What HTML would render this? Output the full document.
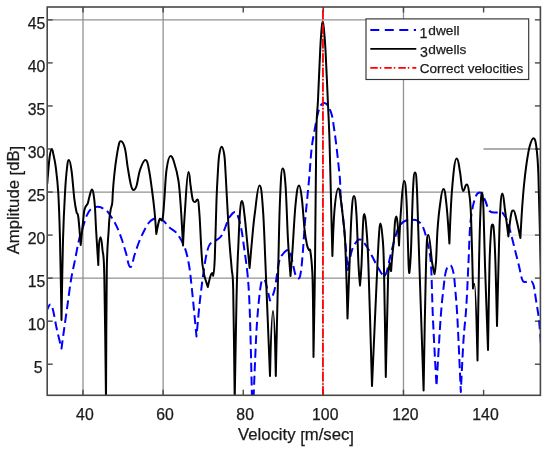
<!DOCTYPE html>
<html><head><meta charset="utf-8"><style>
html,body{margin:0;padding:0;background:#fff;}
svg{display:block;}
text{font-family:"Liberation Sans",Arial,sans-serif;fill:#1a1a1a;stroke:#1a1a1a;stroke-width:0.25px;}
.tl text{font-size:15.8px;}
.al{font-size:16.7px;}
.lg{font-size:13.7px;}
</style></head><body>
<svg width="550" height="450" viewBox="0 0 550 450">
<defs><clipPath id="clip"><rect x="47.2" y="7.0" width="493.20" height="388.30"/></clipPath></defs>
<rect width="550" height="450" fill="#fff"/>
<g stroke="#929292" stroke-width="1.3" fill="none"><line x1="83.00" y1="7.0" x2="83.00" y2="395.3"/><line x1="163.12" y1="7.0" x2="163.12" y2="395.3"/><line x1="403.48" y1="7.0" x2="403.48" y2="395.3"/><line x1="47.2" y1="19.85" x2="366" y2="19.85"/><line x1="47.2" y1="192.03" x2="483.5" y2="192.03"/><line x1="47.2" y1="278.12" x2="483.5" y2="278.12"/><line x1="483.5" y1="148.98" x2="540.4" y2="148.98"/></g>
<line x1="322.95" y1="7" x2="322.95" y2="395.3" stroke="#c4cccc" stroke-width="1.3"/>
<line x1="505" y1="235.07" x2="540.4" y2="235.07" stroke="#dcdcdc" stroke-width="1"/>
<g stroke="#484848" stroke-width="1.4"><line x1="83.00" y1="395.3" x2="83.00" y2="389.8"/><line x1="83.00" y1="7.0" x2="83.00" y2="12.5"/><line x1="163.12" y1="395.3" x2="163.12" y2="389.8"/><line x1="163.12" y1="7.0" x2="163.12" y2="12.5"/><line x1="243.24" y1="395.3" x2="243.24" y2="389.8"/><line x1="243.24" y1="7.0" x2="243.24" y2="12.5"/><line x1="323.36" y1="395.3" x2="323.36" y2="389.8"/><line x1="323.36" y1="7.0" x2="323.36" y2="12.5"/><line x1="403.48" y1="395.3" x2="403.48" y2="389.8"/><line x1="403.48" y1="7.0" x2="403.48" y2="12.5"/><line x1="483.60" y1="395.3" x2="483.60" y2="389.8"/><line x1="483.60" y1="7.0" x2="483.60" y2="12.5"/><line x1="47.2" y1="364.21" x2="52.7" y2="364.21"/><line x1="540.4" y1="364.21" x2="534.9" y2="364.21"/><line x1="47.2" y1="321.17" x2="52.7" y2="321.17"/><line x1="540.4" y1="321.17" x2="534.9" y2="321.17"/><line x1="47.2" y1="278.12" x2="52.7" y2="278.12"/><line x1="540.4" y1="278.12" x2="534.9" y2="278.12"/><line x1="47.2" y1="235.07" x2="52.7" y2="235.07"/><line x1="540.4" y1="235.07" x2="534.9" y2="235.07"/><line x1="47.2" y1="192.03" x2="52.7" y2="192.03"/><line x1="540.4" y1="192.03" x2="534.9" y2="192.03"/><line x1="47.2" y1="148.98" x2="52.7" y2="148.98"/><line x1="540.4" y1="148.98" x2="534.9" y2="148.98"/><line x1="47.2" y1="105.94" x2="52.7" y2="105.94"/><line x1="540.4" y1="105.94" x2="534.9" y2="105.94"/><line x1="47.2" y1="62.90" x2="52.7" y2="62.90"/><line x1="540.4" y1="62.90" x2="534.9" y2="62.90"/><line x1="47.2" y1="19.85" x2="52.7" y2="19.85"/><line x1="540.4" y1="19.85" x2="534.9" y2="19.85"/></g>
<g clip-path="url(#clip)" fill="none" stroke-linejoin="round">
<path d="M46.00,312.00 C46.20,311.58 46.47,310.77 47.20,309.50 C47.93,308.23 48.95,304.40 50.40,304.40 C51.85,304.40 51.90,305.73 53.00,310.00 C54.10,314.27 55.58,323.58 57.00,330.00 C58.42,336.42 61.50,348.50 61.50,348.50 C61.50,348.50 63.00,337.25 64.00,330.00 C65.00,322.75 66.33,313.33 67.50,305.00 C68.67,296.67 69.75,287.50 71.00,280.00 C72.25,272.50 73.67,266.67 75.00,260.00 C76.33,253.33 77.70,245.37 79.00,240.00 C80.30,234.63 81.52,231.87 82.80,227.80 C84.08,223.73 85.33,218.73 86.70,215.60 C88.07,212.47 89.15,210.48 91.00,209.00 C92.85,207.52 95.05,206.70 97.80,206.70 C100.55,206.70 100.52,207.35 102.00,208.00 C103.48,208.65 104.82,208.60 106.70,210.60 C108.58,212.60 111.45,216.95 113.30,220.00 C115.15,223.05 116.35,225.57 117.80,228.90 C119.25,232.23 120.63,235.98 122.00,240.00 C123.37,244.02 124.60,248.50 126.00,253.00 C127.40,257.50 128.28,267.00 130.40,267.00 C132.53,267.00 133.07,259.17 134.50,255.00 C135.93,250.83 137.42,246.00 139.00,242.00 C140.58,238.00 142.33,234.25 144.00,231.00 C145.67,227.75 147.42,224.50 149.00,222.50 C150.58,220.50 152.17,219.67 153.50,219.00 C154.83,218.33 154.62,218.50 157.00,218.50 C159.38,218.50 160.92,219.00 163.00,220.50 C165.08,222.00 167.17,225.33 169.50,227.50 C171.83,229.67 174.50,230.25 177.00,233.50 C179.50,236.75 182.50,241.75 184.50,247.00 C186.50,252.25 187.75,257.83 189.00,265.00 C190.25,272.17 190.75,278.08 192.00,290.00 C193.25,301.92 196.50,336.50 196.50,336.50 C196.50,336.50 198.75,311.25 200.00,300.00 C201.25,288.75 202.83,277.00 204.00,269.00 C205.17,261.00 206.00,256.17 207.00,252.00 C208.00,247.83 208.50,245.93 210.00,244.00 C211.50,242.07 214.00,241.90 216.00,240.40 C218.00,238.90 220.00,238.40 222.00,235.00 C224.00,231.60 226.67,223.08 228.00,220.00 C229.33,216.92 228.83,217.83 230.00,216.50 C231.17,215.17 232.88,212.00 235.00,212.00 C237.12,212.00 237.42,215.00 238.50,218.00 C239.58,221.00 240.58,225.17 241.50,230.00 C242.42,234.83 242.93,239.00 244.00,247.00 C245.07,255.00 246.90,266.17 247.90,278.00 C248.90,289.83 249.32,297.67 250.00,318.00 C250.68,338.33 252.00,400.00 252.00,400.00 C252.00,400.00 253.50,400.00 253.50,400.00 C253.50,400.00 255.25,355.00 256.00,340.00 C256.75,325.00 257.17,319.33 258.00,310.00 C258.83,300.67 260.00,289.08 261.00,284.00 C262.00,278.92 262.50,279.50 264.00,279.50 C265.50,279.50 266.00,284.50 267.00,288.00 C268.00,291.50 270.00,300.50 270.00,300.50 C270.00,300.50 273.00,296.42 274.50,290.00 C276.00,283.58 277.58,268.00 279.00,262.00 C280.42,256.00 281.50,256.00 283.00,254.00 C284.50,252.00 286.25,250.00 288.00,250.00 C289.75,250.00 289.25,250.00 290.00,252.00 C290.75,254.00 291.58,258.17 292.50,262.00 C293.42,265.83 294.50,272.25 295.50,275.00 C296.50,277.75 297.12,278.50 298.50,278.50 C299.88,278.50 300.25,275.75 301.00,271.00 C301.75,266.25 302.33,258.17 303.00,250.00 C303.67,241.83 304.00,233.67 305.00,222.00 C306.00,210.33 307.88,192.33 309.00,180.00 C310.12,167.67 310.70,156.67 311.70,148.00 C312.70,139.33 313.95,133.83 315.00,128.00 C316.05,122.17 317.00,116.83 318.00,113.00 C319.00,109.17 319.92,106.67 321.00,105.00 C322.08,103.33 322.75,103.00 324.50,103.00 C326.25,103.00 326.80,104.10 328.00,106.00 C329.20,107.90 330.70,110.73 331.70,114.40 C332.70,118.07 333.27,123.18 334.00,128.00 C334.73,132.82 335.35,137.13 336.10,143.30 C336.85,149.47 337.85,158.88 338.50,165.00 C339.15,171.12 339.65,175.00 340.00,180.00 C340.35,185.00 340.30,190.55 340.60,195.00 C340.90,199.45 341.32,202.20 341.80,206.70 C342.28,211.20 342.97,216.67 343.50,222.00 C344.03,227.33 344.28,230.70 345.00,238.70 C345.72,246.70 347.80,270.00 347.80,270.00 C347.80,270.00 350.47,254.83 352.00,250.00 C353.53,245.17 355.67,242.75 357.00,241.00 C358.33,239.25 357.75,239.50 360.00,239.50 C362.25,239.50 364.00,242.75 366.00,245.50 C368.00,248.25 370.25,252.75 372.00,256.00 C373.75,259.25 375.17,262.50 376.50,265.00 C377.83,267.50 378.77,269.00 380.00,271.00 C381.23,273.00 383.90,277.00 383.90,277.00 C383.90,277.00 385.85,274.50 386.70,272.00 C387.55,269.50 388.27,265.17 389.00,262.00 C389.73,258.83 390.20,256.67 391.10,253.00 C392.00,249.33 393.33,243.83 394.40,240.00 C395.47,236.17 396.40,232.67 397.50,230.00 C398.60,227.33 399.58,225.58 401.00,224.00 C402.42,222.42 404.33,221.17 406.00,220.50 C407.67,219.83 408.25,220.00 411.00,220.00 C413.75,220.00 415.00,219.33 417.00,220.50 C419.00,221.67 421.17,222.92 423.00,227.00 C424.83,231.08 426.67,238.67 428.00,245.00 C429.33,251.33 430.17,252.50 431.00,265.00 C431.83,277.50 432.08,299.83 433.00,320.00 C433.92,340.17 436.50,386.00 436.50,386.00 C436.50,386.00 439.37,336.00 440.50,320.00 C441.63,304.00 442.38,298.17 443.30,290.00 C444.22,281.83 444.88,275.12 446.00,271.00 C447.12,266.88 448.12,265.30 450.00,265.30 C451.88,265.30 452.62,268.88 453.50,273.00 C454.38,277.12 454.63,282.17 455.30,290.00 C455.97,297.83 456.58,303.00 457.50,320.00 C458.42,337.00 460.80,392.00 460.80,392.00 C460.80,392.00 462.58,354.22 463.50,340.00 C464.42,325.78 465.47,319.70 466.30,306.70 C467.13,293.70 467.80,276.12 468.50,262.00 C469.20,247.88 469.45,232.50 470.50,222.00 C471.55,211.50 473.22,203.92 474.80,199.00 C476.38,194.08 477.45,192.50 480.00,192.50 C482.55,192.50 483.42,196.92 485.00,200.00 C486.58,203.08 487.50,208.92 489.50,211.00 C491.50,213.08 494.12,212.50 497.00,212.50 C499.88,212.50 499.25,212.00 501.00,212.00 C502.75,212.00 503.00,213.67 504.00,215.00 C505.00,216.33 505.83,216.83 507.00,220.00 C508.17,223.17 509.67,229.00 511.00,234.00 C512.33,239.00 513.67,244.67 515.00,250.00 C516.33,255.33 517.83,261.17 519.00,266.00 C520.17,270.83 521.00,276.33 522.00,279.00 C523.00,281.67 523.00,282.00 525.00,282.00 C527.00,282.00 527.88,281.00 530.00,281.00 C532.12,281.00 532.50,281.83 533.50,285.00 C534.50,288.17 535.08,294.17 536.00,300.00 C536.92,305.83 538.17,312.50 539.00,320.00 C539.83,327.50 540.67,340.83 541.00,345.00" stroke="#0000ff" stroke-width="2" stroke-dasharray="9 4.5"/>
<path d="M47.20,184.00 C47.58,179.67 48.75,163.78 49.50,158.00 C50.25,152.22 50.70,149.30 51.70,149.30 C52.70,149.30 52.83,152.10 53.50,155.00 C54.17,157.90 54.90,160.32 55.70,166.70 C56.50,173.08 57.58,181.08 58.30,193.30 C59.02,205.52 59.47,218.88 60.00,240.00 C60.53,261.12 61.50,320.00 61.50,320.00 C61.50,320.00 62.42,261.17 63.00,240.00 C63.58,218.83 64.33,205.00 65.00,193.00 C65.67,181.00 66.33,173.50 67.00,168.00 C67.67,162.50 67.83,160.00 69.00,160.00 C70.17,160.00 70.82,165.55 71.70,172.00 C72.58,178.45 73.50,192.03 74.30,198.70 C75.10,205.37 75.83,208.95 76.50,212.00 C77.17,215.05 77.60,211.50 78.30,217.00 C79.00,222.50 80.70,245.00 80.70,245.00 C80.70,245.00 81.77,234.33 82.20,230.00 C82.63,225.67 82.97,222.17 83.30,219.00 C83.63,215.83 83.82,213.05 84.20,211.00 C84.58,208.95 85.00,207.98 85.60,206.70 C86.20,205.42 87.17,204.97 87.80,203.30 C88.43,201.63 88.70,199.02 89.40,196.70 C90.10,194.38 90.88,189.40 92.00,189.40 C93.12,189.40 93.40,193.63 93.90,196.70 C94.40,199.77 94.63,202.25 95.00,207.80 C95.37,213.35 95.55,220.47 96.10,230.00 C96.65,239.53 98.30,265.00 98.30,265.00 C98.30,265.00 98.62,249.62 99.00,245.00 C99.38,240.38 99.72,237.30 100.60,237.30 C101.47,237.30 101.88,243.72 102.50,250.00 C103.12,256.28 103.72,250.00 104.30,275.00 C104.88,300.00 106.00,400.00 106.00,400.00 C106.00,400.00 106.35,298.33 106.80,270.00 C107.25,241.67 108.27,238.50 108.70,230.00 C109.13,221.50 109.08,222.33 109.40,219.00 C109.72,215.67 110.13,212.62 110.60,210.00 C111.07,207.38 111.83,206.08 112.20,203.30 C112.57,200.52 112.53,197.18 112.80,193.30 C113.07,189.42 113.27,185.38 113.80,180.00 C114.33,174.62 115.13,167.00 116.00,161.00 C116.87,155.00 118.17,147.28 119.00,144.00 C119.83,140.72 119.50,141.30 121.00,141.30 C122.50,141.30 123.88,144.37 125.00,148.70 C126.12,153.03 126.73,161.35 127.70,167.30 C128.67,173.25 129.83,180.62 130.80,184.40 C131.77,188.18 132.07,190.00 133.50,190.00 C134.93,190.00 135.42,189.33 136.50,186.00 C137.58,182.67 138.50,174.33 140.00,170.00 C141.50,165.67 143.25,160.00 145.50,160.00 C147.75,160.00 147.92,165.00 149.00,170.00 C150.08,175.00 151.08,183.17 152.00,190.00 C152.92,196.83 153.78,203.67 154.50,211.00 C155.22,218.33 156.30,234.00 156.30,234.00 C156.30,234.00 158.47,221.92 159.50,219.50 C160.53,217.08 161.70,222.75 162.50,219.50 C163.30,216.25 163.63,208.25 164.30,200.00 C164.97,191.75 165.47,177.33 166.50,170.00 C167.53,162.67 168.62,156.00 170.50,156.00 C172.38,156.00 172.67,157.83 174.00,162.00 C175.33,166.17 177.33,173.00 178.50,181.00 C179.67,189.00 180.25,199.25 181.00,210.00 C181.75,220.75 183.00,245.50 183.00,245.50 C183.00,245.50 184.10,222.25 185.00,210.00 C185.90,197.75 187.03,172.00 188.40,172.00 C189.78,172.00 189.80,180.50 190.50,185.00 C191.20,189.50 191.85,196.17 192.60,199.00 C193.35,201.83 193.80,202.00 195.00,202.00 C196.20,202.00 196.28,199.60 197.40,199.60 C198.53,199.60 198.65,204.10 199.50,215.00 C200.35,225.90 201.12,253.00 202.50,265.00 C203.88,277.00 207.80,287.00 207.80,287.00 C207.80,287.00 209.73,278.33 210.50,276.00 C211.27,273.67 211.73,273.00 212.40,273.00 C213.07,273.00 212.60,276.00 213.20,276.00 C213.80,276.00 214.25,270.67 214.80,258.00 C215.35,245.33 215.97,214.67 216.50,200.00 C217.03,185.33 217.55,177.50 218.00,170.00 C218.45,162.50 218.58,158.87 219.20,155.00 C219.82,151.13 220.42,146.80 221.70,146.80 C222.97,146.80 223.68,151.13 224.30,155.00 C224.92,158.87 225.02,163.83 225.40,170.00 C225.78,176.17 225.95,180.33 226.60,192.00 C227.25,203.67 228.45,227.17 229.30,240.00 C230.15,252.83 231.05,260.67 231.70,269.00 C232.35,277.33 232.70,268.17 233.20,290.00 C233.70,311.83 234.70,400.00 234.70,400.00 C234.70,400.00 236.03,322.50 236.50,300.00 C236.97,277.50 237.20,273.88 237.50,265.00 C237.80,256.12 237.90,255.32 238.30,246.70 C238.70,238.08 239.27,220.90 239.90,213.30 C240.53,205.70 240.95,201.10 242.10,201.10 C243.25,201.10 243.77,209.35 244.50,215.00 C245.23,220.65 245.65,226.17 246.50,235.00 C247.35,243.83 249.60,268.00 249.60,268.00 C249.60,268.00 251.60,244.33 252.50,235.00 C253.40,225.67 253.83,220.25 255.00,212.00 C256.17,203.75 257.50,185.50 259.50,185.50 C261.50,185.50 262.00,196.75 263.00,210.00 C264.00,223.25 264.33,237.33 265.50,265.00 C266.67,292.67 270.00,376.00 270.00,376.00 C270.00,376.00 271.55,311.00 273.00,311.00 C274.45,311.00 275.80,376.00 275.80,376.00 C275.80,376.00 277.60,294.33 278.30,265.00 C279.00,235.67 279.28,216.10 280.00,200.00 C280.72,183.90 281.23,168.40 282.60,168.40 C283.98,168.40 284.60,173.07 285.50,185.00 C286.40,196.93 287.17,224.83 288.00,240.00 C288.83,255.17 290.50,276.00 290.50,276.00 C290.50,276.00 291.67,261.83 292.50,250.00 C293.33,238.17 294.42,215.75 295.50,205.00 C296.58,194.25 297.38,185.50 299.00,185.50 C300.62,185.50 301.08,192.75 302.00,200.00 C302.92,207.25 303.67,221.50 304.50,229.00 C305.33,236.50 306.25,241.50 307.00,245.00 C307.75,248.50 308.42,248.83 309.00,250.00 C309.58,251.17 309.90,247.00 310.50,252.00 C311.10,257.00 312.10,262.50 312.60,280.00 C313.10,297.50 313.50,357.00 313.50,357.00 C313.50,357.00 314.53,302.00 315.00,265.00 C315.47,228.00 315.80,162.50 316.30,135.00 C316.80,107.50 317.35,114.17 318.00,100.00 C318.65,85.83 319.62,61.67 320.20,50.00 C320.78,38.33 321.08,34.75 321.50,30.00 C321.92,25.25 322.07,21.50 322.70,21.50 C323.32,21.50 323.53,25.25 324.00,30.00 C324.47,34.75 324.87,38.33 325.50,50.00 C326.13,61.67 327.13,85.00 327.80,100.00 C328.47,115.00 328.97,123.33 329.50,140.00 C330.03,156.67 330.52,180.67 331.00,200.00 C331.48,219.33 332.40,256.00 332.40,256.00 C332.40,256.00 333.52,221.25 334.50,210.00 C335.48,198.75 336.88,188.50 338.30,188.50 C339.73,188.50 339.63,191.97 340.20,195.00 C340.77,198.03 341.15,202.20 341.70,206.70 C342.25,211.20 342.95,216.67 343.50,222.00 C344.05,227.33 344.50,229.03 345.00,238.70 C345.50,248.37 346.08,266.70 346.50,280.00 C346.92,293.30 347.50,318.50 347.50,318.50 C347.50,318.50 348.83,282.25 349.50,265.00 C350.17,247.75 350.75,226.50 351.50,215.00 C352.25,203.50 352.75,196.00 354.00,196.00 C355.25,196.00 355.75,203.50 356.50,215.00 C357.25,226.50 357.92,253.25 358.50,265.00 C359.08,276.75 360.00,285.50 360.00,285.50 C360.00,285.50 361.00,275.08 361.50,265.00 C362.00,254.92 362.50,233.50 363.00,225.00 C363.50,216.50 363.62,214.00 364.50,214.00 C365.38,214.00 365.85,221.50 366.50,230.00 C367.15,238.50 367.48,239.00 368.40,265.00 C369.32,291.00 372.00,386.00 372.00,386.00 C372.00,386.00 376.23,290.17 377.40,265.00 C378.57,239.83 378.50,241.90 379.00,235.00 C379.50,228.10 379.57,223.60 380.40,223.60 C381.22,223.60 381.72,228.10 382.30,235.00 C382.88,241.90 383.32,241.33 383.90,265.00 C384.48,288.67 385.80,377.00 385.80,377.00 C385.80,377.00 387.38,307.33 387.80,290.00 C388.22,272.67 387.97,277.45 388.30,273.00 C388.63,268.55 389.80,263.30 389.80,263.30 C389.80,263.30 391.10,271.10 391.10,271.10 C391.10,271.10 391.73,261.88 392.20,256.70 C392.67,251.52 393.43,245.78 393.90,240.00 C394.37,234.22 394.58,225.93 395.00,222.00 C395.42,218.07 395.70,216.40 396.40,216.40 C397.10,216.40 397.37,221.15 397.80,226.00 C398.23,230.85 399.00,245.50 399.00,245.50 C399.00,245.50 400.17,220.75 401.00,210.00 C401.83,199.25 402.62,181.00 404.00,181.00 C405.38,181.00 405.73,186.00 406.50,200.00 C407.27,214.00 408.10,253.00 408.60,265.00 C409.10,277.00 409.50,272.00 409.50,272.00 C409.50,272.00 410.42,263.67 411.00,250.00 C411.58,236.33 412.33,202.90 413.00,190.00 C413.67,177.10 414.00,172.60 415.00,172.60 C416.00,172.60 416.27,174.60 417.00,190.00 C417.73,205.40 418.30,231.58 419.40,265.00 C420.50,298.42 423.60,390.50 423.60,390.50 C423.60,390.50 425.20,290.92 426.00,265.00 C426.80,239.08 426.90,235.00 428.40,235.00 C429.90,235.00 430.98,255.50 432.00,262.00 C433.02,268.50 434.50,274.00 434.50,274.00 C434.50,274.00 435.50,269.33 436.00,262.00 C436.50,254.67 436.83,239.50 437.50,230.00 C438.17,220.50 439.02,211.83 440.00,205.00 C440.98,198.17 441.77,189.00 443.40,189.00 C445.02,189.00 445.50,195.93 446.50,205.00 C447.50,214.07 449.40,243.40 449.40,243.40 C449.40,243.40 450.80,204.15 452.00,190.00 C453.20,175.85 454.60,158.50 456.60,158.50 C458.60,158.50 458.93,166.58 460.00,172.00 C461.07,177.42 461.62,191.00 463.00,191.00 C464.38,191.00 464.83,187.08 465.50,186.00 C466.17,184.92 466.12,184.50 467.00,184.50 C467.88,184.50 468.33,186.92 469.00,192.00 C469.67,197.08 470.33,198.92 471.00,215.00 C471.67,231.08 473.00,288.50 473.00,288.50 C473.00,288.50 473.38,284.00 474.50,284.00 C475.62,284.00 477.50,360.50 477.50,360.50 C477.50,360.50 478.50,290.08 479.00,265.00 C479.50,239.92 480.00,222.00 480.50,210.00 C481.00,198.00 481.25,193.00 482.00,193.00 C482.75,193.00 483.00,198.00 483.50,210.00 C484.00,222.00 484.25,241.67 485.00,265.00 C485.75,288.33 488.00,350.00 488.00,350.00 C488.00,350.00 489.00,284.67 489.50,265.00 C490.00,245.33 490.50,238.75 491.00,232.00 C491.50,225.25 491.75,224.50 492.50,224.50 C493.25,224.50 493.50,225.25 494.00,232.00 C494.50,238.75 495.00,249.33 495.50,265.00 C496.00,280.67 497.00,326.00 497.00,326.00 C497.00,326.00 498.00,283.50 498.50,265.00 C499.00,246.50 499.35,226.90 500.00,215.00 C500.65,203.10 501.15,193.60 502.40,193.60 C503.65,193.60 504.00,202.85 505.00,210.00 C506.00,217.15 508.40,236.50 508.40,236.50 C508.40,236.50 510.15,219.35 511.00,215.00 C511.85,210.65 512.12,210.40 513.50,210.40 C514.88,210.40 515.35,215.40 516.50,220.00 C517.65,224.60 520.40,238.00 520.40,238.00 C520.40,238.00 521.40,218.83 522.00,210.00 C522.60,201.17 523.25,192.67 524.00,185.00 C524.75,177.33 525.58,170.33 526.50,164.00 C527.42,157.67 528.33,151.30 529.50,147.00 C530.67,142.70 531.75,138.20 533.50,138.20 C535.25,138.20 535.68,141.87 536.50,148.00 C537.32,154.13 537.75,157.50 538.40,175.00 C539.05,192.50 539.80,232.17 540.40,253.00 C541.00,273.83 541.73,292.17 542.00,300.00" stroke="#000" stroke-width="2"/>
<line x1="322.95" y1="7.0" x2="322.95" y2="395.3" stroke="#ff0000" stroke-width="1.8" stroke-dasharray="9.6 1.7 1.5 1.68" stroke-dashoffset="11.65"/>
</g>
<rect x="47.2" y="7.0" width="493.20" height="388.30" fill="none" stroke="#484848" stroke-width="1.6"/>
<g class="tl"><text x="84.90" y="419.9" text-anchor="middle">40</text><text x="165.02" y="419.9" text-anchor="middle">60</text><text x="245.14" y="419.9" text-anchor="middle">80</text><text x="325.26" y="419.9" text-anchor="middle">100</text><text x="405.38" y="419.9" text-anchor="middle">120</text><text x="485.50" y="419.9" text-anchor="middle">140</text><text x="42.6" y="373.41" text-anchor="end">5</text><text x="45.3" y="330.37" text-anchor="end">10</text><text x="45.3" y="287.32" text-anchor="end">15</text><text x="45.3" y="244.27" text-anchor="end">20</text><text x="45.3" y="201.23" text-anchor="end">25</text><text x="45.3" y="158.18" text-anchor="end">30</text><text x="45.3" y="115.14" text-anchor="end">35</text><text x="45.3" y="72.09" text-anchor="end">40</text><text x="45.3" y="29.05" text-anchor="end">45</text></g>
<text class="al" x="238" y="439.8">Velocity <tspan dy="3.5">[</tspan><tspan dy="-3.5">m/sec</tspan><tspan dy="3.5">]</tspan></text>
<text class="al" transform="translate(18.6,200) rotate(-90)" text-anchor="middle">Amplitude <tspan dy="3.5">[</tspan><tspan dy="-3.5">dB</tspan><tspan dy="3.5">]</tspan></text>
<rect x="366" y="18.9" width="162.7" height="60.6" fill="#fff" stroke="#333" stroke-width="1.15"/><line x1="370.3" y1="30" x2="416" y2="30" stroke="#0000ff" stroke-width="1.8" stroke-dasharray="9 5.5"/><line x1="370.3" y1="48.9" x2="416.3" y2="48.9" stroke="#000" stroke-width="1.7"/><line x1="370.3" y1="67.8" x2="416.3" y2="67.8" stroke="#ff0000" stroke-width="1.8" stroke-dasharray="7.5 2 1.5 3"/><text class="lg" x="419.6" y="38.2" style="font-size:14.4px">1</text><text class="lg" x="428.3" y="35">dwell</text><text class="lg" x="420" y="56.6" style="font-size:14.2px">3</text><text class="lg" x="428.3" y="53.6">dwells</text><text class="lg" x="419.8" y="73" style="font-size:13.5px">Correct velocities</text>
</svg>
</body></html>
